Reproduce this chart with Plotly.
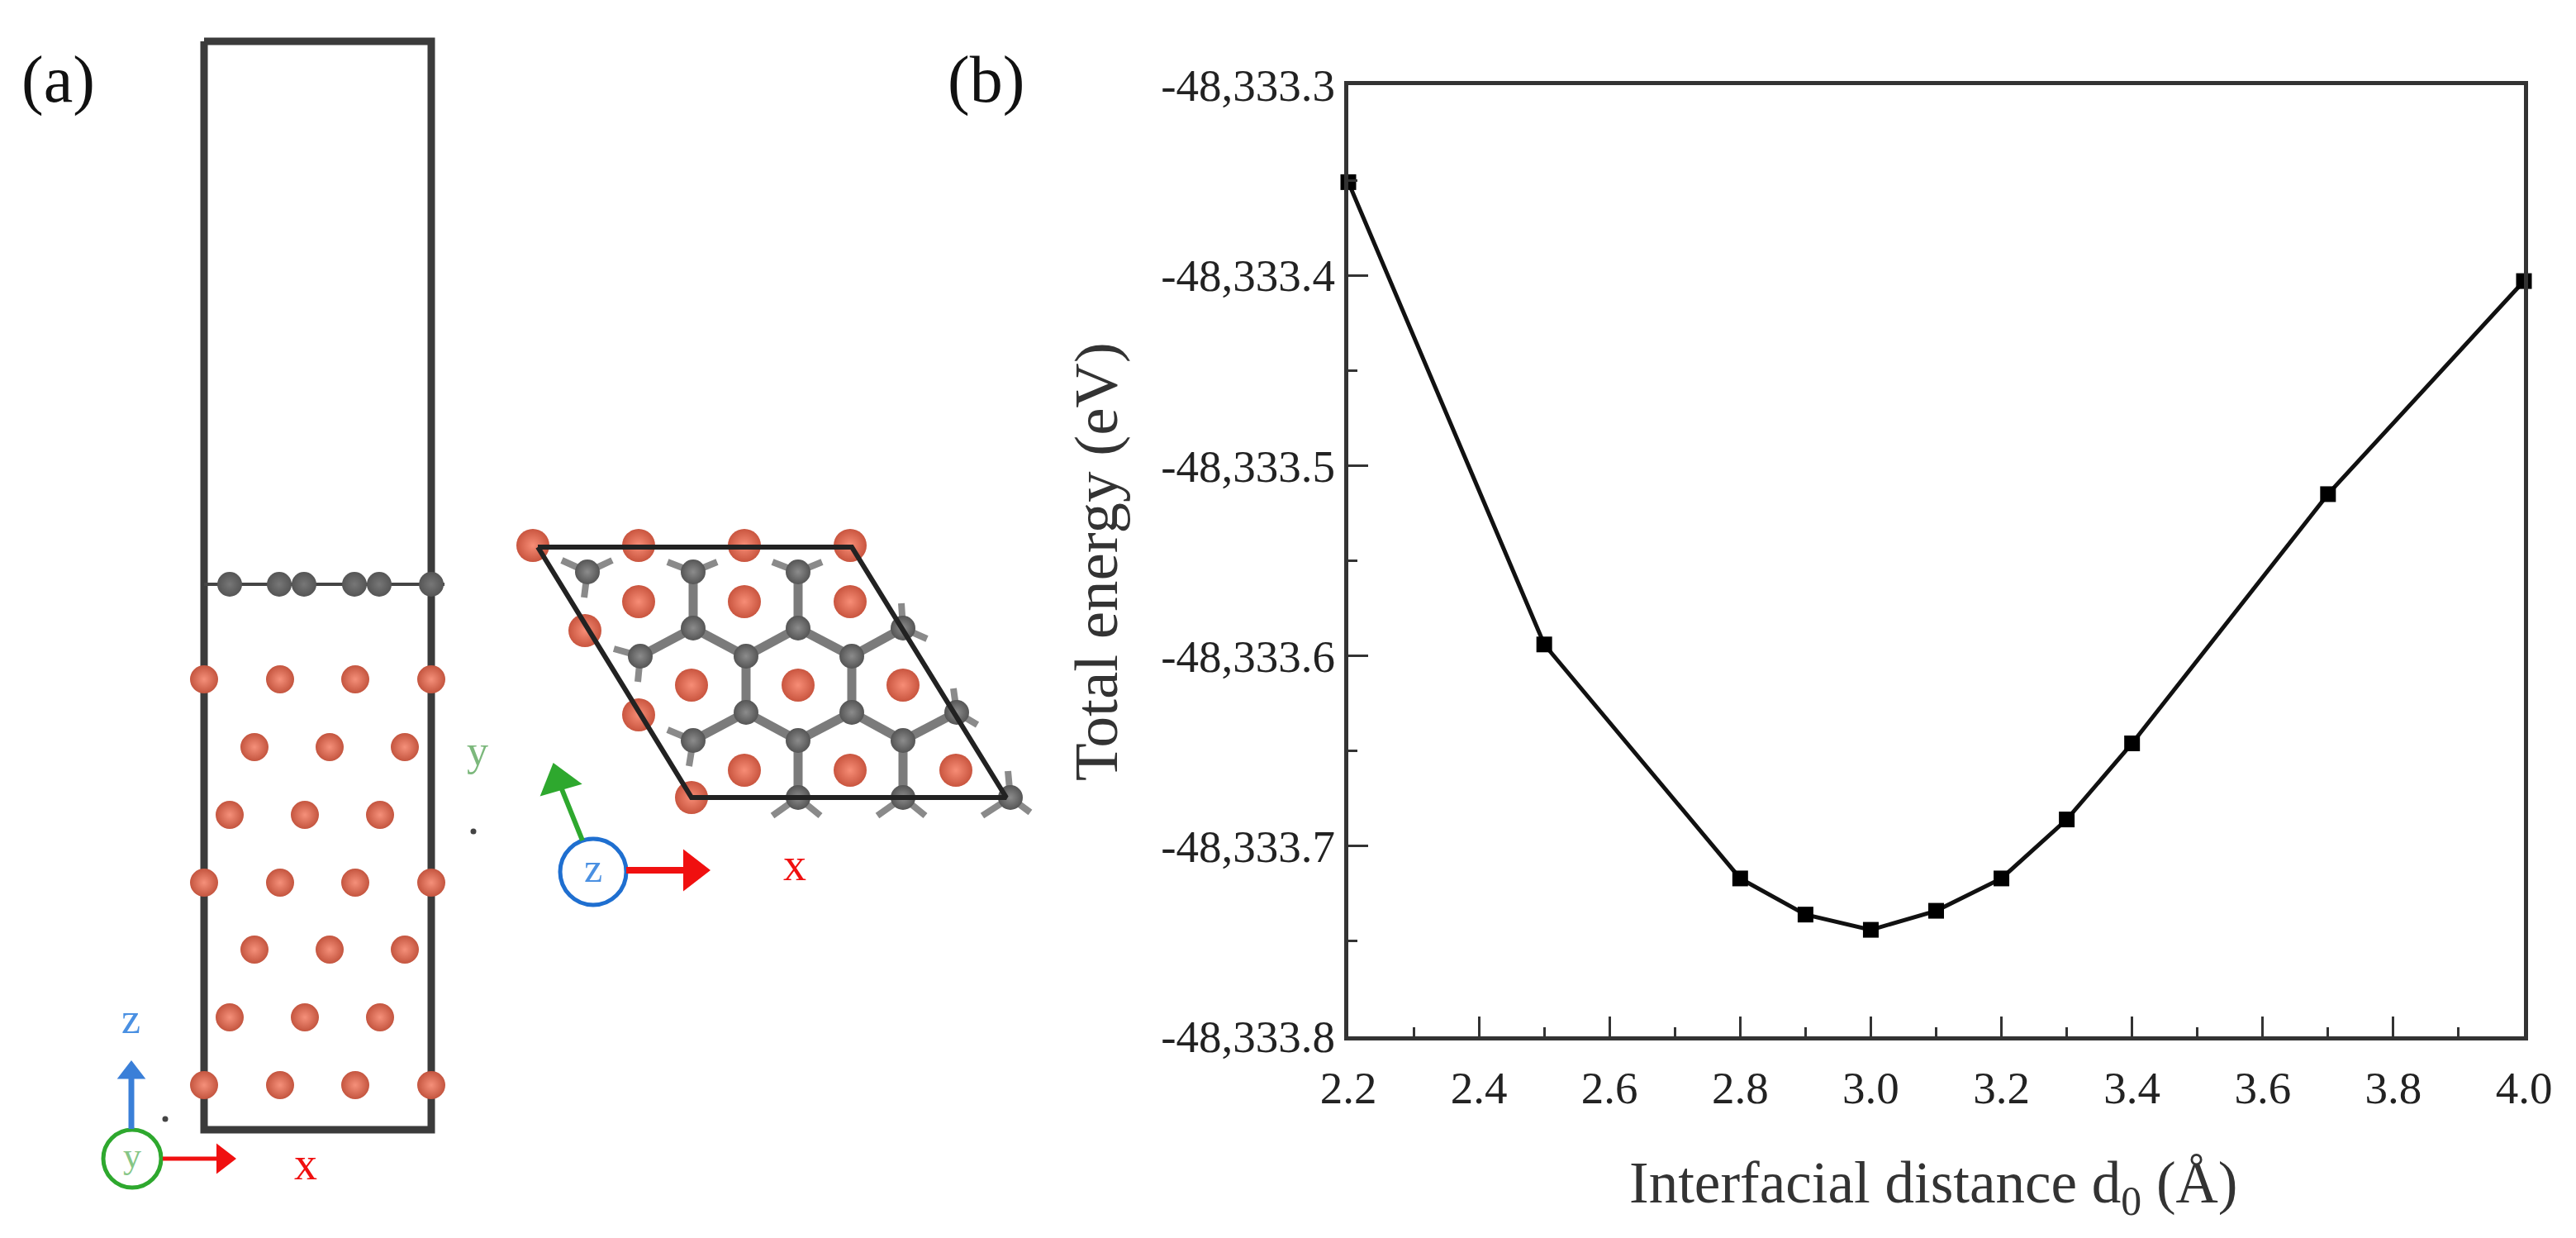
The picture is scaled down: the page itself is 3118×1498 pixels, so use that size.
import plotly.graph_objects as go

# ---------- panel (b) data ----------
distance = [2.2, 2.5, 2.8, 2.9, 3.0, 3.1, 3.2, 3.3, 3.4, 3.7, 4.0]
energy = [-48333.351, -48333.594, -48333.717, -48333.736, -48333.744, -48333.734,
          -48333.717, -48333.686, -48333.646, -48333.515, -48333.403]
x_ticks = [2.2, 2.4, 2.6, 2.8, 3.0, 3.2, 3.4, 3.6, 3.8, 4.0]
x_labels = ["2.2", "2.4", "2.6", "2.8", "3.0", "3.2", "3.4", "3.6", "3.8", "4.0"]
y_ticks = [-48333.3, -48333.4, -48333.5, -48333.6, -48333.7, -48333.8]
y_labels = ["-48,333.3", "-48,333.4", "-48,333.5", "-48,333.6", "-48,333.7", "-48,333.8"]

# ---------- panel (a) side view ----------
box_x = [247, 522, 522, 247, 247]
box_y = [50, 50, 1367, 1367, 50]
side_cu_x = [247, 339, 430, 522, 308, 399, 490, 278, 369, 460, 247, 339, 430, 522,
             308, 399, 490, 278, 369, 460, 247, 339, 430, 522]
side_cu_y = [822, 822, 822, 822, 904, 904, 904, 986, 986, 986, 1068, 1068, 1068, 1068,
             1149, 1149, 1149, 1231, 1231, 1231, 1313, 1313, 1313, 1313]
side_c_x = [278, 338, 368, 429, 459, 522]
side_c_y = [707, 707, 707, 707, 707, 707]
side_c_line_x = [247, 538]
side_c_line_y = [707, 707]

# ---------- panel (a) top view ----------
cell_x = [651, 1031, 1218, 837, 651]
cell_y = [662, 662, 965, 965, 662]
top_cu_x = [645, 773, 901, 1029, 773, 901, 1029, 708, 837, 966, 1093, 773, 901, 1029, 1157, 837]
top_cu_y = [660, 660, 660, 660, 728, 728, 728, 763, 829, 829, 829, 865, 932, 932, 932, 965]
top_c_x = [711, 839, 966, 839, 966, 1093, 775, 903, 1031, 903, 1031, 1158, 839, 966, 1093, 966, 1093, 1223]
top_c_y = [692, 692, 692, 760, 760, 760, 794, 794, 794, 862, 862, 862, 896, 896, 896, 965, 965, 965]
bond_x = [839, 839, None, 966, 966, None, 903, 903, None, 1031, 1031, None, 966, 966, None, 1093, 1093, None,
          839, 775, None, 839, 903, None, 966, 903, None, 966, 1031, None, 1093, 1031, None,
          903, 839, None, 903, 966, None, 1031, 966, None, 1031, 1093, None, 1158, 1093]
bond_y = [692, 760, None, 692, 760, None, 794, 862, None, 794, 862, None, 896, 965, None, 896, 965, None,
          760, 794, None, 760, 794, None, 760, 794, None, 760, 794, None, 760, 794, None,
          862, 896, None, 862, 896, None, 862, 896, None, 862, 896, None, 862, 896]
stub_x = [680, 711, 741, None, 711, 707, None, 808, 839, 868, None, 935, 966, 995, None,
          743, 775, 772, None, 808, 839, 834, None, 935, 966, 993, None, 1062, 1093, 1120, None,
          1189, 1223, 1247, None, 1223, 1220, None, 1091, 1093, 1122, None, 1154, 1158, 1183]
stub_y = [678, 692, 678, None, 692, 723, None, 680, 692, 680, None, 680, 692, 680, None,
          785, 794, 825, None, 883, 896, 927, None, 987, 965, 987, None, 987, 965, 987, None,
          987, 965, 983, None, 965, 933, None, 730, 760, 773, None, 833, 862, 877]

# ---------- orientation gizmos ----------
red = "#f01010"
green = "#2ea82e"
blue = "#1f6fd0"

fig = go.Figure()

def overlay(x, y, **kw):
    fig.add_trace(go.Scatter(x=x, y=y, xaxis="x2", yaxis="y2", showlegend=False,
                             hoverinfo="skip", cliponaxis=False, **kw))

def line(x, y, color, width):
    overlay(x, y, mode="lines", line=dict(color=color, width=width))

def atoms(x, y, size, rim, core):
    overlay(x, y, mode="markers",
            marker=dict(size=size, color=rim, gradient=dict(type="radial", color=core),
                        line=dict(width=0)))

def arrow(x, y, color, width, head, angle):
    line(x, y, color, width)
    overlay([x[-1]], [y[-1]], mode="markers",
            marker=dict(symbol="triangle-up", size=head, color=color, angle=angle, line=dict(width=0)))

line(box_x, box_y, "#3b3b3b", 9)
line(side_c_line_x, side_c_line_y, "#444444", 4)
atoms(side_c_x, side_c_y, 30, "#555555", "#777777")
atoms(side_cu_x, side_cu_y, 34, "#c4553f", "#f5907a")

atoms(top_cu_x, top_cu_y, 40, "#c9553f", "#f78d76")
line(stub_x, stub_y, "#8a8a8a", 8)
line(bond_x, bond_y, "#7b7b7b", 11)
atoms(top_c_x, top_c_y, 30, "#555555", "#8c8c8c")
line(cell_x, cell_y, "#222222", 6)

overlay([160], [1402], mode="markers",
        marker=dict(size=70, color="rgba(255,255,255,0)", line=dict(color=green, width=5)))
arrow([197, 270], [1402, 1402], red, 5, 32, 90)
arrow([159, 159], [1366, 1298], "#3a7fd8", 7, 30, 0)
overlay([718], [1055], mode="markers",
        marker=dict(size=80, color="rgba(255,255,255,0)", line=dict(color=blue, width=5)))
arrow([758, 838], [1053, 1053], red, 8, 44, 90)
arrow([705, 676], [1017, 945], green, 6, 46, -16)
overlay([573, 200], [1006, 1354], mode="markers", marker=dict(size=7, color="#444444"))

# panel (b)
fig.add_trace(go.Scatter(
    x=distance, y=energy, mode="lines+markers", showlegend=False, cliponaxis=False,
    line=dict(color="#111111", width=5),
    marker=dict(symbol="square", size=19, color="#000000"),
))

serif = "Liberation Serif"

def note(text, x, y, size, color, angle=0):
    fig.add_annotation(text=text, x=x, y=y, xref="x2", yref="y2", showarrow=False, textangle=angle,
                       font=dict(family=serif, size=size, color=color))

note("(a)", 70, 96, 80, "#111111")
note("(b)", 1193, 96, 80, "#111111")
note("y", 578, 908, 52, "#7cb87c")
note("z", 158, 1232, 52, "#4a90e2")
note("y", 160, 1398, 44, "#86c686")
note("x", 370, 1408, 56, red)
note("z", 718, 1050, 50, "#4a90e2")
note("x", 962, 1046, 56, red)
note("Total energy (eV)", 1326, 680, 75, "#333333", -90)
note("Interfacial distance d<sub>0</sub> (Å)", 2340, 1436, 71, "#333333")

fig.update_layout(
    width=3118, height=1498, margin=dict(l=0, r=0, t=0, b=0),
    paper_bgcolor="white", plot_bgcolor="rgba(0,0,0,0)",
    xaxis=dict(
        domain=[1632 / 3118, 3055 / 3118], range=[2.2, 4.0], anchor="y", automargin=False,
        tickmode="array", tickvals=x_ticks, ticktext=x_labels, ticks="inside", ticklen=24, tickwidth=3,
        minor=dict(dtick=0.1, ticks="inside", ticklen=11, tickwidth=3, tickcolor="#333333"),
        tickcolor="#333333", showgrid=False, zeroline=False, showline=True, linecolor="#333333",
        linewidth=5, mirror=True, ticklabelstandoff=10,
        tickfont=dict(family=serif, size=55, color="#222222"),
    ),
    yaxis=dict(
        domain=[1 - 1254 / 1498, 1 - 103 / 1498], range=[-48333.8, -48333.3], anchor="x", automargin=False,
        tickmode="array", tickvals=y_ticks, ticktext=y_labels, ticks="inside", ticklen=24, tickwidth=3,
        minor=dict(dtick=0.05, ticks="inside", ticklen=11, tickwidth=3, tickcolor="#333333"),
        tickcolor="#333333", showgrid=False, zeroline=False, showline=True, linecolor="#333333",
        linewidth=5, mirror=True,
        tickfont=dict(family=serif, size=55, color="#222222"),
    ),
    xaxis2=dict(domain=[0, 1], range=[0, 3118], visible=False, anchor="y2"),
    yaxis2=dict(domain=[0, 1], range=[1498, 0], visible=False, anchor="x2"),
)

fig.write_html("out.html", config=dict(displayModeBar=False),
               post_script="document.body.style.margin='0';document.body.style.overflow='hidden';")
